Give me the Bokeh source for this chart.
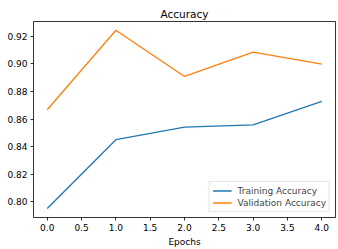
from bokeh.plotting import figure
from bokeh.models import Range1d, Legend, LegendItem, FixedTicker
from bokeh.embed import file_html
from bokeh.resources import INLINE

epochs = [0, 1, 2, 3, 4]
train_acc = [0.7952, 0.8450, 0.8542, 0.8557, 0.8728]
val_acc = [0.8667, 0.9243, 0.8908, 0.9084, 0.8997]
x_ticks = [0.0, 0.5, 1.0, 1.5, 2.0, 2.5, 3.0, 3.5, 4.0]
y_ticks = [0.80, 0.82, 0.84, 0.86, 0.88, 0.90, 0.92]

FONT = "DejaVu Sans"

p = figure(width=338, height=249, output_backend="svg", toolbar_location=None,
           x_range=Range1d(-0.2, 4.2), y_range=Range1d(0.7887, 0.9306),
           min_border_left=33, min_border_right=3, min_border_top=21, min_border_bottom=32,
           title="Accuracy")
p.title.align = "center"
p.title.text_font = FONT
p.title.text_font_size = "10.5px"
p.title.text_font_style = "normal"
p.title.text_color = "#000000"
p.title.offset = 0
p.title.standoff = 3

p.background_fill_color = "white"
p.border_fill_color = "white"
p.outline_line_color = "#000000"
p.outline_line_width = 0.8
p.grid.visible = False

for ax in (p.xaxis[0], p.yaxis[0]):
    ax.axis_line_color = None
    ax.major_tick_line_color = "#000000"
    ax.major_tick_line_width = 0.8
    ax.major_tick_out = 3
    ax.major_tick_in = 0
    ax.minor_tick_line_color = None
    ax.major_label_text_font = FONT
    ax.major_label_text_font_size = "9px"
    ax.major_label_text_color = "#000000"
    ax.major_label_standoff = 3

p.xaxis.ticker = FixedTicker(ticks=x_ticks)
p.yaxis.ticker = FixedTicker(ticks=y_ticks)
p.xaxis.major_label_overrides = {t: f"{t:.1f}" for t in x_ticks}
p.yaxis.major_label_overrides = {t: f"{t:.2f}" for t in y_ticks}
p.xaxis.axis_label = "Epochs"
p.xaxis.axis_label_text_font = FONT
p.xaxis.axis_label_text_font_size = "9px"
p.xaxis.axis_label_text_font_style = "normal"
p.xaxis.axis_label_text_color = "#000000"
p.xaxis.axis_label_standoff = 3

r1 = p.line(epochs, train_acc, line_color="#1f77b4", line_width=1.3)
r2 = p.line(epochs, val_acc, line_color="#ff7f0e", line_width=1.3)

legend = Legend(items=[LegendItem(label="Training Accuracy", renderers=[r1]),
                       LegendItem(label="Validation Accuracy", renderers=[r2])],
                location="bottom_right", margin=5, padding=3, spacing=1,
                label_text_font=FONT, label_text_font_size="9px",
                label_height=11, glyph_height=11, glyph_width=19, label_standoff=6,
                border_line_color="#cccccc", border_line_width=1,
                background_fill_alpha=0.8)
p.add_layout(legend)

open("out.html", "w").write(file_html(p, INLINE))
